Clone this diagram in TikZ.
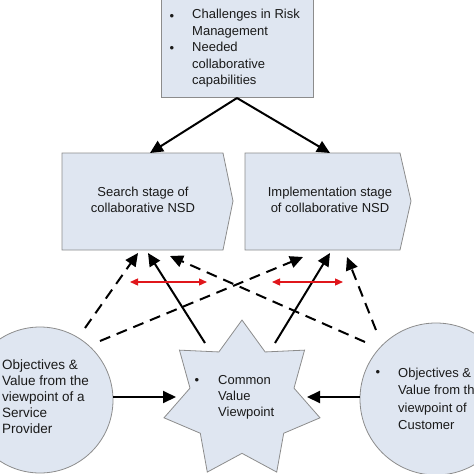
\documentclass[tikz,border=0pt]{standalone}
\usepackage{fontspec}
\setmainfont{Liberation Sans}
\usetikzlibrary{arrows.meta,shapes.geometric}
\definecolor{boxfill}{HTML}{DFE6F1}
\definecolor{boxline}{HTML}{8C8C8C}
\definecolor{txt}{HTML}{1A1A1A}
\definecolor{linkred}{HTML}{E0161B}
\begin{document}
\begin{tikzpicture}[x=1pt,y=-1pt,
  shapebox/.style={draw=boxline, fill=boxfill, line width=0.8pt},
  conn/.style={line width=2pt, -{Triangle[length=13pt,width=12pt]}},
  dconn/.style={conn, dash pattern=on 11pt off 7pt},
  link/.style={linkred, line width=1.3pt, {Triangle[length=8pt,width=7pt]}-{Triangle[length=8pt,width=7pt]}},
  lbl/.style={text=txt, inner sep=0pt, font=\fontsize{13}{16.5}\selectfont, align=left},
  bul/.style={text=txt, inner sep=0pt, font=\fontsize{13}{16.5}\selectfont}]
\useasboundingbox (0,0) rectangle (474,474);

% top box
\node[shapebox, minimum width=152pt, minimum height=105pt, inner sep=0pt, anchor=south] (top) at (237,98) {};
\node[bul] (b1) at (172,17) {\textbullet};
\node[bul] (b2) at (172,49) {\textbullet};
\node[lbl, anchor=north west] (toptext) at (192,9) {Challenges in Risk\\Management\\Needed\\collaborative\\capabilities};

% pentagons
\draw[shapebox] (62,153) -- (223,153) -- (233,201) -- (223,250) -- (62,250) -- cycle;
\draw[shapebox] (245,153) -- (400,153) -- (411,201) -- (400,250) -- (245,250) -- cycle;
\node[lbl, align=center, font=\fontsize{13}{15.5}\selectfont] (search) at (143,200) {Search stage of\\collaborative NSD};
\node[lbl, align=center, font=\fontsize{13}{15.5}\selectfont] (impl) at (330,200) {Implementation stage\\of collaborative NSD};

% circles and star
\node[shapebox, circle, minimum size=146pt, inner sep=0pt] (lc) at (40,400) {};
\node[shapebox, circle, minimum size=152pt, inner sep=0pt] (rc) at (436,399) {};
\node[shapebox, star, star points=7, star point ratio=1.5, minimum size=160pt, inner sep=0pt] (star) at (242,400) {};

\node[lbl, anchor=west, font=\fontsize{13.5}{16}\selectfont] (lctext) at (2,397) {Objectives \&\\Value from the\\viewpoint of a\\Service\\Provider};
\node[bul] (b3) at (378,373) {\textbullet};
\node[lbl, anchor=west, font=\fontsize{13}{17.5}\selectfont] (rctext) at (398,399) {Objectives \&\\Value from the\\viewpoint of\\Customer};
\node[bul] (b4) at (197,381) {\textbullet};
\node[lbl, anchor=west, font=\fontsize{13}{16}\selectfont] (startext) at (218,397) {Common\\Value\\Viewpoint};

% connector end points
\coordinate (ltop) at (150,153);
\coordinate (rtop) at (330,153);
\coordinate (d1s) at (85,328);   \coordinate (d1e) at (138,253);
\coordinate (d2s) at (100,341);  \coordinate (d2e) at (303,257);
\coordinate (d3s) at (365,342);  \coordinate (d3e) at (170,256);
\coordinate (d4s) at (376,330);  \coordinate (d4e) at (347,257);
\coordinate (s1s) at (205,343);  \coordinate (s1e) at (148,253);
\coordinate (s2s) at (275,343);  \coordinate (s2e) at (330,253);
\coordinate (h1s) at (113,397);  \coordinate (h1e) at (176,397);
\coordinate (h2s) at (360,397);  \coordinate (h2e) at (307,397);
\coordinate (r1a) at (130,282);  \coordinate (r1b) at (207,282);
\coordinate (r2a) at (272,282);  \coordinate (r2b) at (343,282);

\draw[conn] (top.south) -- (ltop);
\draw[conn] (top.south) -- (rtop);
\draw[dconn] (d1s) -- (d1e);
\draw[dconn] (d2s) -- (d2e);
\draw[dconn] (d3s) -- (d3e);
\draw[dconn] (d4s) -- (d4e);
\draw[conn] (s1s) -- (s1e);
\draw[conn] (s2s) -- (s2e);
\draw[conn] (h1s) -- (h1e);
\draw[conn] (h2s) -- (h2e);
\draw[link] (r1a) -- (r1b);
\draw[link] (r2a) -- (r2b);
\end{tikzpicture}
\end{document}
